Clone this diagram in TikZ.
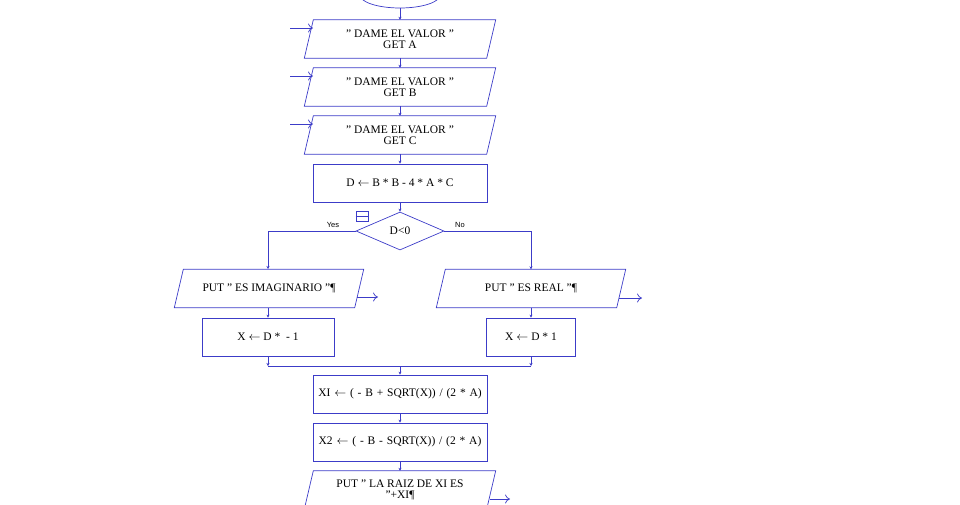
\documentclass[tikz,border=0pt]{standalone}
\usepackage{fontspec}
\setmainfont{Liberation Serif}
\newfontfamily\lblfont{Liberation Sans}
\usetikzlibrary{shapes.geometric,arrows.meta}
\definecolor{fb}{RGB}{60,60,200}
\begin{document}
\begin{tikzpicture}[x=1pt,y=-1pt,
  line/.style={draw=fb,line width=0.7pt},
  txt/.style={align=center,inner sep=1pt,font=\fontsize{11.5}{11}\selectfont},
  io/.style={txt,rectangle,minimum width=182pt,minimum height=38pt,
    append after command={\pgfextra{\draw[line] ([xshift=4.5pt]\tikzlastnode.north west) -- ([xshift=4.5pt]\tikzlastnode.north east) -- ([xshift=-4.5pt]\tikzlastnode.south east) -- ([xshift=-4.5pt]\tikzlastnode.south west) -- cycle;}}},
  proc/.style={txt,line,rectangle,minimum height=38pt},
  flow/.style={line,-{Stealth[length=3pt,width=3pt]}},
  ext/.style={line,-{To[length=5pt,width=9pt]}}]
\useasboundingbox (0,0) rectangle (960,504);
\begin{scope}
\clip (0,0) rectangle (960,504);
\node[line,ellipse,minimum width=80pt,minimum height=26pt] (st) at (400,-5) {};
\node[io] (ga) at (400,39) {" DAME EL VALOR "\\GET A};
\node[io] (gb) at (400,87) {" DAME EL VALOR "\\GET B};
\node[io] (gc) at (400,135) {" DAME EL VALOR "\\GET C};
\node[proc,minimum width=174pt] (d) at (400,183) {D $\leftarrow$ B * B - 4 * A * C};
\node[line,diamond,minimum width=88pt,minimum height=38pt,inner sep=0pt,aspect=2.3,font=\fontsize{11.5}{11}\selectfont] (q) at (400,231) {D<0};
\node[io,minimum width=180pt] (pi) at (269,288.5) {PUT " ES IMAGINARIO "¶};
\node[io,minimum width=180pt] (pr) at (531,288.5) {PUT " ES REAL "¶};
\node[proc,minimum width=132pt] (xl) at (268,337) {X $\leftarrow$ D * \ - 1};
\node[proc,minimum width=89pt] (xr) at (531,337) {X $\leftarrow$ D * 1};
\node[proc,minimum width=174pt,text width=170pt] (x1) at (400,394) {XI $\leftarrow$ ( - B + SQRT(X)) / (2 * A)};
\node[proc,minimum width=174pt,text width=170pt] (x2) at (400,442) {X2 $\leftarrow$ ( - B - SQRT(X)) / (2 * A)};
\node[io] (p3) at (400,490) {PUT " LA RAIZ DE XI ES\\ "+XI¶};
\coordinate (m) at (400,366);
\coordinate (ml) at (268,366);
\coordinate (mr) at (531,366);
\draw[flow] (st.south) -- (ga.north);
\draw[flow] (ga.south) -- (gb.north);
\draw[flow] (gb.south) -- (gc.north);
\draw[flow] (gc.south) -- (d.north);
\draw[flow] (d.south) -- (q.north);
\draw[flow] (q.west) -| (268,269);
\draw[flow] (q.east) -| (pr.north);
\draw[flow] (268,308) -- (xl.north);
\draw[flow] (pr.south) -- (xr.north);
\draw[flow] (xl.south) -- (ml);
\draw[flow] (xr.south) -- (mr);
\draw[line] (ml) -- (mr);
\draw[flow] (m) -- (x1.north);
\draw[flow] (x1.south) -- (x2.north);
\draw[flow] (x2.south) -- (p3.north);
\foreach \n/\y in {ga/28,gb/76,gc/124}{
  \coordinate (i\n) at (290,\y);
  \draw[ext] (i\n) -- (313,\y);
}
\coordinate (o1) at (378,297); \draw[ext] (357,297) -- (o1);
\coordinate (o2) at (642,298); \draw[ext] (619,298) -- (o2);
\coordinate (o3) at (510,499); \draw[ext] (490,499) -- (o3);
\node[font=\lblfont\fontsize{7.5}{7.5}\selectfont] (yes) at (333,225) {Yes};
\node[font=\lblfont\fontsize{7.5}{7.5}\selectfont] (no) at (460,225) {No};
\node[line,rectangle,minimum width=12pt,minimum height=10pt,inner sep=0pt] (ic) at (362,216) {};
\draw[line] (ic.west) -- (ic.east);
\end{scope}
\end{tikzpicture}
\end{document}
